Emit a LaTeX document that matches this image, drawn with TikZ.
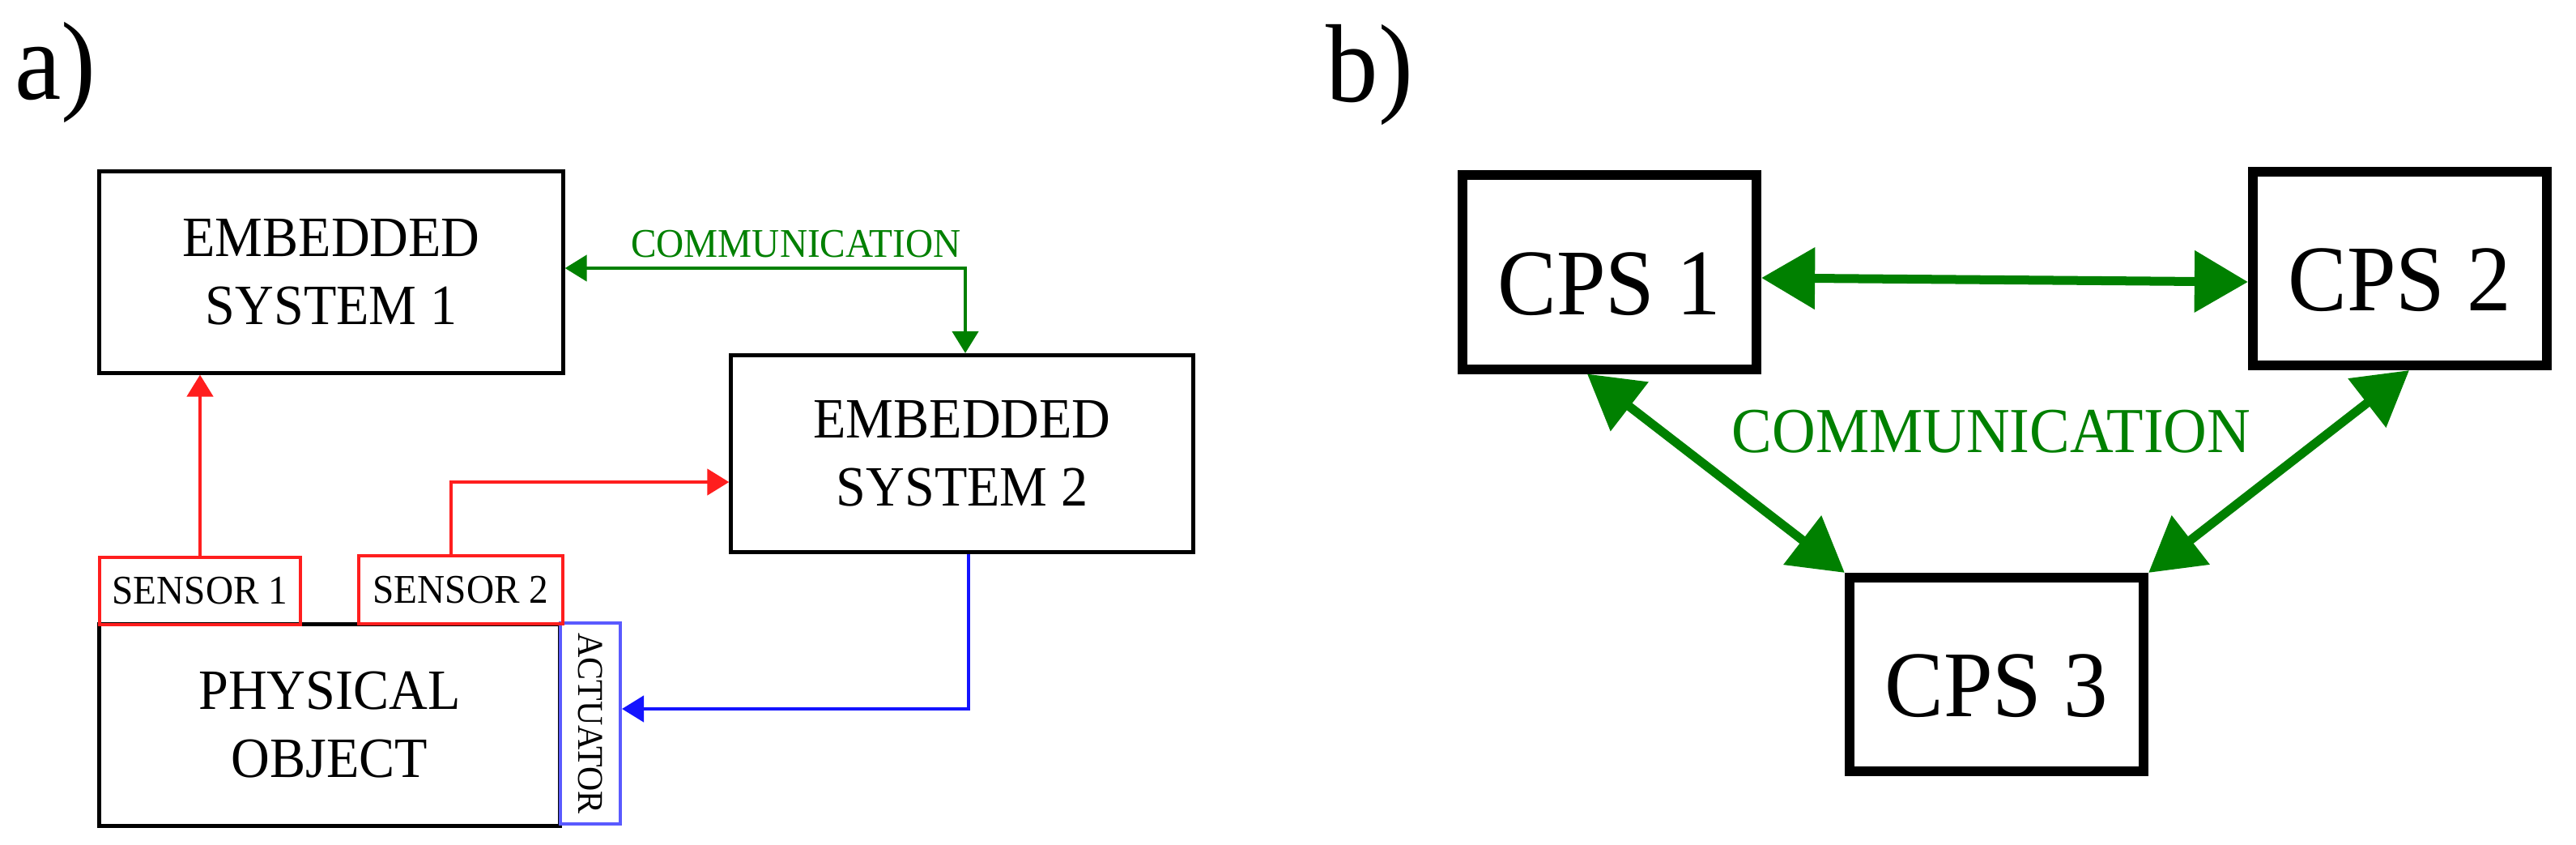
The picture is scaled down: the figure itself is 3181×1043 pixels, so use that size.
\documentclass[tikz,border=0pt]{standalone}
\usepackage{fontspec}
\setmainfont[FakeStretch=0.94]{Liberation Serif}
\usetikzlibrary{arrows.meta}
\definecolor{cgreen}{RGB}{0,128,0}
\definecolor{cred}{RGB}{255,30,30}
\definecolor{cblue}{RGB}{20,20,255}
\definecolor{cblueL}{RGB}{90,90,255}
\begin{document}
\begin{tikzpicture}[x=0.01cm,y=-0.01cm,
  esbox/.style={draw=black, line width=0.05cm, inner sep=0pt, align=center, font=\fontsize{20}{23.9}\selectfont},
  senbox/.style={draw=cred, line width=0.04cm, inner sep=0pt, font=\fontsize{14.3}{16}\selectfont},
  actbox/.style={draw=cblueL, line width=0.04cm, minimum width=0.74cm, minimum height=2.48cm, inner sep=0pt},
  sig/.style={line width=0.045cm, -{Triangle[length=0.27cm,width=0.32cm]}},
  sigboth/.style={line width=0.045cm, {Triangle[length=0.27cm,width=0.32cm]}-{Triangle[length=0.27cm,width=0.32cm]}},
  cpsbox/.style={draw=black, line width=0.12cm, minimum width=3.63cm, minimum height=2.39cm, inner sep=0pt, text height=1.06cm, text depth=0.02cm, font=\fontsize{33}{33}\selectfont},
  link/.style={cgreen, line width=0.11cm, {Triangle[length=0.66cm,width=0.74cm]}-{Triangle[length=0.66cm,width=0.74cm]}},
  panel/.style={anchor=base west, inner sep=0pt, font=\fontsize{39}{39}\selectfont},
  comlabel/.style={inner sep=0pt, text=cgreen},
]
\useasboundingbox (0,0) rectangle (3181,1043);

% panel labels
\node[panel] (la) at (18,123) {a)};
\node[panel] (lb) at (1637,126) {b)};

% ---- a) ----
\node[esbox, minimum width=5.72cm, minimum height=2.48cm] (es1) at (409,336) {EMBEDDED\\SYSTEM 1};
\node[esbox, minimum width=5.70cm, minimum height=2.43cm] (es2) at (1188,560) {EMBEDDED\\SYSTEM 2};
\node[esbox, minimum width=5.69cm, minimum height=2.48cm] (po) at (407,895) {PHYSICAL\\OBJECT};
\node[actbox, label={[rotate=-90, inner sep=0pt, font=\fontsize{12.7}{14}\selectfont]center:ACTUATOR}] (act) at (729,893) {};
\node[senbox, minimum width=2.48cm, minimum height=0.83cm] (s1) at (247,729.5) {SENSOR 1};
\node[senbox, minimum width=2.52cm, minimum height=0.84cm] (s2) at (569,728) {SENSOR 2};

\draw[sig, cred] (s1.north) -- (s1.north |- es1.south);
\draw[sig, cred] ([xshift=-0.12cm]s2.north) |- ([yshift=-0.35cm]es2.west);
\draw[sig, cblue] ([xshift=0.08cm]es2.south) |- ([yshift=0.18cm]act.east);
\draw[sigboth, cgreen] ([yshift=0.05cm]es1.east) -| ([xshift=0.04cm]es2.north);
\node[comlabel, anchor=base east, font=\fontsize{14.3}{16}\selectfont] (comA) at (1187,318) {COMMUNICATION};

% ---- b) ----
\node[cpsbox] (c1) at (1987.5,336) {CPS 1};
\node[cpsbox] (c2) at (2963.5,331.5) {CPS 2};
\node[cpsbox] (c3) at (2465.5,832.5) {CPS 3};
\draw[link] ([yshift=-0.07cm]c1.east) -- ([yshift=-0.165cm]c2.west);
\draw[link] ([xshift=-0.275cm]c1.south) -- (c3.north west);
\draw[link] ([xshift=0.115cm]c2.south) -- (c3.north east);
\node[comlabel, anchor=base, font=\fontsize{22.5}{24}\selectfont] (comB) at (2459,558) {COMMUNICATION};
\end{tikzpicture}
\end{document}
